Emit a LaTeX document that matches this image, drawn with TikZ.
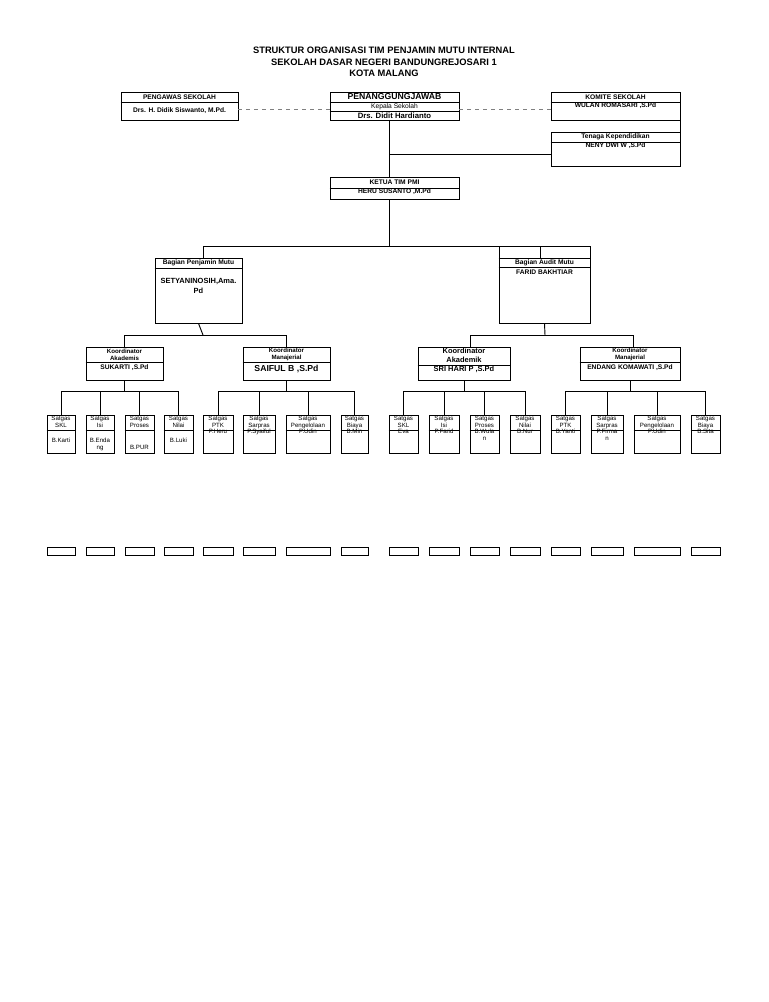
\documentclass[tikz,border=0pt]{standalone}
\usepackage{fontspec}
\setmainfont{Liberation Sans}
\usetikzlibrary{fit}
\begin{document}
\begin{tikzpicture}[x=0.75pt,y=-0.75pt,
  bx/.style={draw,line width=0.7pt,inner sep=0pt},
  ln/.style={line width=0.7pt},
  tt/.style={font=\fontsize{4.6}{5}\selectfont,align=center,inner sep=0pt},
  tb/.style={font=\bfseries\fontsize{5}{6}\selectfont,align=center,inner sep=0pt},
  dashln/.style={dashed,gray,line width=0.5pt}]
\useasboundingbox (0,0) rectangle (768,1002);
\newcommand\bx[5]{\node[bx,fit={(#2,#3)(#4,#5)}] (#1) {};}
\newcommand\dv[2]{\draw[ln] (#1.west |- 0,#2) -- (#1.east |- 0,#2);}
% title
\node[font=\bfseries\fontsize{7}{8.6}\selectfont,align=center] (title) at (384,62) {STRUKTUR ORGANISASI TIM PENJAMIN MUTU INTERNAL\\SEKOLAH DASAR NEGERI BANDUNGREJOSARI 1\\KOTA MALANG};
% top row
\bx{peng}{121}{92}{238}{120}\dv{peng}{102}
\node[tb] (pengt) at (179.5,97) {PENGAWAS SEKOLAH};
\node[tb] (pengn) at (179.5,111) {Drs. H. Didik Siswanto, M.Pd.};
\bx{pj}{330}{92}{459}{120}\dv{pj}{102}\dv{pj}{111}
\node[tb,font=\bfseries\fontsize{6.5}{7}\selectfont] (pjt) at (394.5,96.5) {PENANGGUNGJAWAB};
\node[tt,font=\fontsize{5}{6}\selectfont] (pjk) at (394.5,106.5) {Kepala Sekolah};
\node[tb,font=\bfseries\fontsize{5.8}{6}\selectfont] (pjn) at (394.5,115.5) {Drs. Didit Hardianto};
\bx{kom}{551}{92}{680}{120}\dv{kom}{102}
\node[tb] (komt) at (615.5,97) {KOMITE SEKOLAH};
\node[tb] (komn) at (615.5,105.5) {WULAN ROMASARI ,S.Pd};
\bx{ten}{551}{132}{680}{166}\dv{ten}{142}
\node[tb] (tent) at (615.5,137) {Tenaga Kependidikan};
\node[tb] (tenn) at (615.5,146) {NENY DWI W ,S.Pd};
\draw[ln] (kom.south east) -- (ten.north east);
\draw[dashln] (peng.east |- 0,109) -- (pj.west |- 0,109);
\draw[dashln] (pj.east |- 0,109) -- (kom.west |- 0,109);
% ketua
\bx{ket}{330}{177}{459}{199}\dv{ket}{188}
\node[tb] (kett) at (394.5,182.5) {KETUA TIM PMI};
\node[tb] (ketn) at (394.5,191.5) {HERU SUSANTO ,M.Pd};
\coordinate (j1) at (389,154);
\draw[ln] (389,120) -- (389,177);
\draw[ln] (j1) -- (ten.west |- j1);
% bagian
\bx{bpm}{155}{258}{242}{323}\dv{bpm}{268}
\node[tb] (bpmt) at (198.5,262.5) {Bagian Penjamin Mutu};
\node[tb,font=\bfseries\fontsize{5.6}{8}\selectfont] (bpmn) at (198.5,286) {SETYANINOSIH,Ama.\\Pd};
\bx{bam}{499}{246}{590}{323}\dv{bam}{258}\dv{bam}{267}
\node[tb] (bamt) at (544.5,262.5) {Bagian Audit Mutu};
\node[tb] (bamn) at (544.5,272) {FARID BAKHTIAR};
\draw[ln] (540,246) -- (540,258);
\draw[ln] (389,199) -- (389,246);
\draw[ln] (203,258) -- (203,246) -- (590,246);
% koordinators
\bx{ka1}{86}{347}{163}{380}\dv{ka1}{362}
\node[tt,font=\bfseries\fontsize{4.6}{5.2}\selectfont] (ka1t) at (124.5,354.5) {Koordinator\\Akademis};
\node[tb] (ka1n) at (124.5,367.5) {SUKARTI ,S.Pd};
\bx{km1}{243}{347}{330}{380}\dv{km1}{362}
\node[tt,font=\bfseries\fontsize{4.6}{5.2}\selectfont] (km1t) at (286.5,354.5) {Koordinator\\Manajerial};
\node[tb,font=\bfseries\fontsize{6.5}{7}\selectfont] (km1n) at (286.5,369.5) {SAIFUL B ,S.Pd};
\bx{ka2}{418}{347}{510}{380}\dv{ka2}{365}
\node[tb,font=\bfseries\fontsize{5.6}{6.4}\selectfont] (ka2t) at (464,355.5) {Koordinator\\Akademik};
\node[tb,font=\bfseries\fontsize{5.6}{6}\selectfont] (ka2n) at (464,369.5) {SRI HARI P ,S.Pd};
\bx{km2}{580}{347}{680}{380}\dv{km2}{362}
\node[tt,font=\bfseries\fontsize{4.6}{5.2}\selectfont] (km2t) at (630,354.5) {Koordinator\\Manajerial};
\node[tb] (km2n) at (630,367.5) {ENDANG KOMAWATI ,S.Pd};
\draw[ln] (bpm.south) -- (203,335); \draw[ln] (124,347) -- (124,335) -- (286,335) -- (286,347);
\draw[ln] (bam.south) -- (545,335); \draw[ln] (470,347) -- (470,335) -- (633,335) -- (633,347);
% satgas
\newcommand\sg[6]{\bx{#1}{#2}{415}{#3}{453}\dv{#1}{430}
  \node[tt,anchor=north] (#1t) at ({(#2+#3)/2},416) {#4};
  \node[tt,anchor=north] (#1n) at ({(#2+#3)/2},#6) {#5};
  \node[bx,fit={(#2,547)(#3,555)}] (#1b) {};
  \draw[ln] ({(#2+#3)/2},391) -- (#1.north);}
\sg{a1}{47}{75}{Satgas\\SKL}{B.Karti}{438}
\sg{a2}{86}{114}{Satgas\\Isi}{B.Enda\\ng}{438}
\sg{a3}{125}{154}{Satgas\\Proses}{B.PUR}{445}
\sg{a4}{164}{193}{Satgas\\Nilai}{B.Luki}{438}
\sg{b1}{203}{233}{Satgas\\PTK\\P.Heru}{}{431}
\sg{b2}{243}{275}{Satgas\\Sarpras\\P.Syaiful}{}{431}
\sg{b3}{286}{330}{Satgas\\Pengelolaan\\P.Udin}{}{431}
\sg{b4}{341}{368}{Satgas\\Biaya\\B.Min}{}{431}
\sg{c1}{389}{418}{Satgas\\SKL\\Eva}{}{431}
\sg{c2}{429}{459}{Satgas\\Isi\\P.Farid}{}{431}
\sg{c3}{470}{499}{Satgas\\Proses\\B.Wula\\n}{}{431}
\sg{c4}{510}{540}{Satgas\\Nilai\\B.Nur}{}{431}
\sg{d1}{551}{580}{Satgas\\PTK\\B.Yanti}{}{431}
\sg{d2}{591}{623}{Satgas\\Sarpras\\P.Firma\\n}{}{431}
\sg{d3}{634}{680}{Satgas\\Pengelolaan\\P.Udin}{}{431}
\sg{d4}{691}{720}{Satgas\\Biaya\\B.Sita}{}{431}
\draw[ln] (ka1.south) -- (124.5,391); \draw[ln] (61,391) -- (178.5,391);
\draw[ln] (km1.south) -- (286.5,391); \draw[ln] (218,391) -- (354.5,391);
\draw[ln] (ka2.south) -- (464,391); \draw[ln] (403.5,391) -- (525,391);
\draw[ln] (km2.south) -- (630,391); \draw[ln] (565.5,391) -- (705.5,391);
\end{tikzpicture}
\end{document}
